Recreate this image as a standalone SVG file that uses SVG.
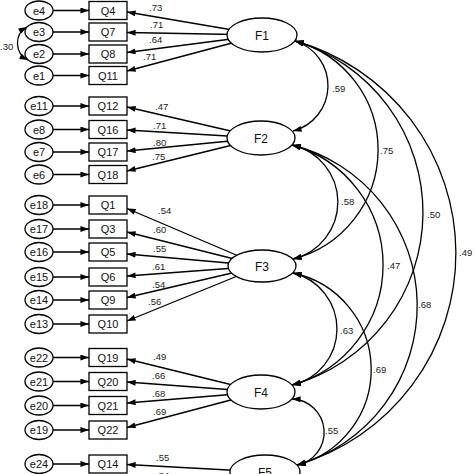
<svg xmlns="http://www.w3.org/2000/svg" width="474" height="474" viewBox="0 0 474 474">
<style>
.n ellipse,.n rect{fill:#fff;stroke:#000;stroke-width:1.3}
.n text{font-family:"Liberation Sans",Arial,sans-serif;font-size:11px;text-anchor:middle;fill:#111}
.f text{font-size:12px}
.c path{fill:none;stroke:#000;stroke-width:1.3;marker-end:url(#ah)}
.c path.d{marker-start:url(#ah)}
.lb text{font-family:"Liberation Sans",Arial,sans-serif;font-size:9.5px;fill:#222}
</style>
<defs>
<marker id="ah" viewBox="0 0 10 7" refX="10" refY="3.5" markerWidth="9" markerHeight="6" markerUnits="userSpaceOnUse" orient="auto-start-reverse"><path d="M0,0 L10,3.5 L0,7 z" fill="#000"/></marker>
</defs>
<rect width="474" height="474" fill="#fff"/>
<g class="c" id="connectors">
<path d="M53,10.5H89"/><path d="M53,32H89"/><path d="M53,54H89"/><path d="M53,75.5H89"/>
<path d="M53,106H89"/><path d="M53,129.5H89"/><path d="M53,152H89"/><path d="M53,174.5H89"/>
<path d="M53,205H89"/><path d="M53,229H89"/><path d="M53,252H89"/><path d="M53,277H89"/><path d="M53,300H89"/><path d="M53,324H89"/>
<path d="M53,357.5H89"/><path d="M53,381.5H89"/><path d="M53,405.5H89"/><path d="M53,430H89"/>
<path d="M53,464H89"/>
<path d="M262,35L127,12"/><path d="M262,35L127,32.5"/><path d="M262,35L127,52.5"/><path d="M262,35L127,71"/>
<path d="M261,138L127,107"/><path d="M261,138L127,130"/><path d="M261,138L127,151"/><path d="M261,138L127,171"/>
<path d="M262,266L127,208.5"/><path d="M262,266L127,232"/><path d="M262,266L127,254"/><path d="M262,266L127,276"/><path d="M262,266L127,297.5"/><path d="M262,266L127,321"/>
<path d="M261,392L127,359"/><path d="M261,392L127,382"/><path d="M261,392L127,403"/><path d="M261,392L127,427.5"/>
<path d="M265,472L127,464.5"/>
<path class="d" d="M27,27A18.6,18.6 0 0 0 28,60"/>
<path class="d" d="M295,41A46.8,46.8 0 0 1 293,131"/>
<path class="d" d="M295,41A112.7,112.7 0 0 1 293,259"/>
<path class="d" d="M295,41A179,179 0 0 1 292,385"/>
<path class="d" d="M295,41A220.5,220.5 0 0 1 297,465"/>
<path class="d" d="M292,145A58.5,58.5 0 0 1 293,259"/>
<path class="d" d="M292,145A124.6,124.6 0 0 1 292,385"/>
<path class="d" d="M292,145A165.7,165.7 0 0 1 297,465"/>
<path class="d" d="M293,273A57.5,57.5 0 0 1 292,385"/>
<path class="d" d="M293,273A98.6,98.6 0 0 1 297,465"/>
<path class="d" d="M292,399A33.3,33.3 0 0 1 297,465"/>
</g>
<g class="n f" id="F1"><ellipse cx="262" cy="35" rx="35" ry="17"/><text x="262" y="39.5">F1</text></g>
<g class="n f" id="F2"><ellipse cx="261" cy="138" rx="34" ry="17"/><text x="261" y="142.5">F2</text></g>
<g class="n f" id="F3"><ellipse cx="262" cy="266" rx="34" ry="16"/><text x="262" y="270.5">F3</text></g>
<g class="n f" id="F4"><ellipse cx="261" cy="392" rx="34" ry="17"/><text x="261" y="396.5">F4</text></g>
<g class="n f" id="F5"><ellipse cx="265" cy="472" rx="35" ry="17"/><text x="265" y="476.5">F5</text></g>
<g class="n" id="e4"><ellipse cx="39" cy="10.5" rx="14" ry="9.5"/><text x="39" y="14.5">e4</text></g>
<g class="n" id="e3"><ellipse cx="39" cy="32" rx="14" ry="9.5"/><text x="39" y="36">e3</text></g>
<g class="n" id="e2"><ellipse cx="39" cy="54" rx="14" ry="9.5"/><text x="39" y="58">e2</text></g>
<g class="n" id="e1"><ellipse cx="39" cy="75.5" rx="14" ry="9.5"/><text x="39" y="79.5">e1</text></g>
<g class="n" id="e11"><ellipse cx="39" cy="106" rx="14" ry="9.5"/><text x="39" y="110">e11</text></g>
<g class="n" id="e8"><ellipse cx="39" cy="129.5" rx="14" ry="9.5"/><text x="39" y="133.5">e8</text></g>
<g class="n" id="e7"><ellipse cx="39" cy="152" rx="14" ry="9.5"/><text x="39" y="156">e7</text></g>
<g class="n" id="e6"><ellipse cx="39" cy="174.5" rx="14" ry="9.5"/><text x="39" y="178.5">e6</text></g>
<g class="n" id="e18"><ellipse cx="39" cy="205" rx="14" ry="9.5"/><text x="39" y="209">e18</text></g>
<g class="n" id="e17"><ellipse cx="39" cy="229" rx="14" ry="9.5"/><text x="39" y="233">e17</text></g>
<g class="n" id="e16"><ellipse cx="39" cy="252" rx="14" ry="9.5"/><text x="39" y="256">e16</text></g>
<g class="n" id="e15"><ellipse cx="39" cy="277" rx="14" ry="9.5"/><text x="39" y="281">e15</text></g>
<g class="n" id="e14"><ellipse cx="39" cy="300" rx="14" ry="9.5"/><text x="39" y="304">e14</text></g>
<g class="n" id="e13"><ellipse cx="39" cy="324" rx="14" ry="9.5"/><text x="39" y="328">e13</text></g>
<g class="n" id="e22"><ellipse cx="39" cy="357.5" rx="14" ry="9.5"/><text x="39" y="361.5">e22</text></g>
<g class="n" id="e21"><ellipse cx="39" cy="381.5" rx="14" ry="9.5"/><text x="39" y="385.5">e21</text></g>
<g class="n" id="e20"><ellipse cx="39" cy="405.5" rx="14" ry="9.5"/><text x="39" y="409.5">e20</text></g>
<g class="n" id="e19"><ellipse cx="39" cy="430" rx="14" ry="9.5"/><text x="39" y="434">e19</text></g>
<g class="n" id="e24"><ellipse cx="39" cy="464" rx="14" ry="9.5"/><text x="39" y="468">e24</text></g>
<g class="n" id="Q4"><rect x="89" y="1.5" width="38" height="18"/><text x="108" y="14.5">Q4</text></g>
<g class="n" id="Q7"><rect x="89" y="23" width="38" height="18"/><text x="108" y="36">Q7</text></g>
<g class="n" id="Q8"><rect x="89" y="45" width="38" height="18"/><text x="108" y="58">Q8</text></g>
<g class="n" id="Q11"><rect x="89" y="66.5" width="38" height="18"/><text x="108" y="79.5">Q11</text></g>
<g class="n" id="Q12"><rect x="89" y="97" width="38" height="18"/><text x="108" y="110">Q12</text></g>
<g class="n" id="Q16"><rect x="89" y="120.5" width="38" height="18"/><text x="108" y="133.5">Q16</text></g>
<g class="n" id="Q17"><rect x="89" y="143" width="38" height="18"/><text x="108" y="156">Q17</text></g>
<g class="n" id="Q18"><rect x="89" y="165.5" width="38" height="18"/><text x="108" y="178.5">Q18</text></g>
<g class="n" id="Q1"><rect x="89" y="196" width="38" height="18"/><text x="108" y="209">Q1</text></g>
<g class="n" id="Q3"><rect x="89" y="220" width="38" height="18"/><text x="108" y="233">Q3</text></g>
<g class="n" id="Q5"><rect x="89" y="243" width="38" height="18"/><text x="108" y="256">Q5</text></g>
<g class="n" id="Q6"><rect x="89" y="268" width="38" height="18"/><text x="108" y="281">Q6</text></g>
<g class="n" id="Q9"><rect x="89" y="291" width="38" height="18"/><text x="108" y="304">Q9</text></g>
<g class="n" id="Q10"><rect x="89" y="315" width="38" height="18"/><text x="108" y="328">Q10</text></g>
<g class="n" id="Q19"><rect x="89" y="348.5" width="38" height="18"/><text x="108" y="361.5">Q19</text></g>
<g class="n" id="Q20"><rect x="89" y="372.5" width="38" height="18"/><text x="108" y="385.5">Q20</text></g>
<g class="n" id="Q21"><rect x="89" y="396.5" width="38" height="18"/><text x="108" y="409.5">Q21</text></g>
<g class="n" id="Q22"><rect x="89" y="421" width="38" height="18"/><text x="108" y="434">Q22</text></g>
<g class="n" id="Q14"><rect x="89" y="455" width="38" height="18"/><text x="108" y="468">Q14</text></g>
<g class="lb" id="labels">
<text x="149" y="11">.73</text><text x="150" y="28">.71</text><text x="149" y="43">.64</text><text x="143" y="60">.71</text>
<text x="155" y="110">.47</text><text x="153" y="129">.71</text><text x="153" y="146">.80</text><text x="152" y="160">.75</text>
<text x="158" y="214">.54</text><text x="153" y="233">.60</text><text x="153" y="252">.55</text><text x="152" y="270">.61</text><text x="152" y="288">.54</text><text x="148" y="305">.56</text>
<text x="153" y="360">.49</text><text x="152" y="379">.66</text><text x="152" y="397">.68</text><text x="153" y="415">.69</text>
<text x="156" y="461">.55</text><text x="156" y="479">.84</text>
<text x="0" y="50">.30</text>
<text x="332" y="92">.59</text><text x="380" y="154">.75</text><text x="427" y="218">.50</text><text x="459" y="256">.49</text>
<text x="341" y="205">.58</text><text x="387" y="269">.47</text><text x="418" y="308">.68</text>
<text x="340" y="334">.63</text><text x="373" y="373">.69</text><text x="325" y="434">.55</text>
</g>
</svg>
